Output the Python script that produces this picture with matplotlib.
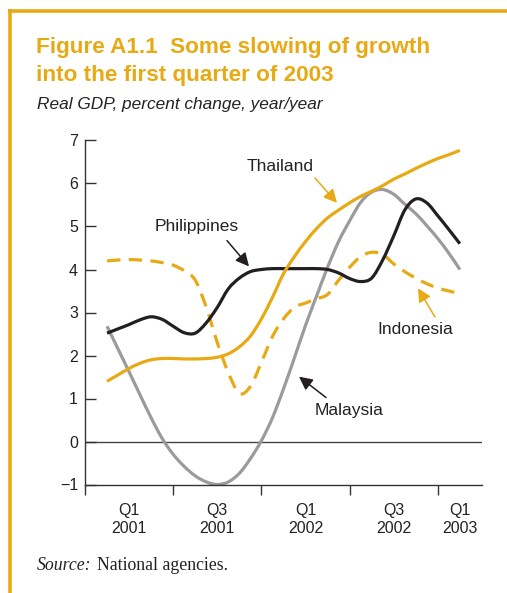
import matplotlib
matplotlib.use("Agg")
import matplotlib.pyplot as plt
from matplotlib.lines import Line2D
from matplotlib.path import Path
from matplotlib.patches import PathPatch

# ---- data (quarter index: 0 = start of 2001, data points at sub-quarter steps) ----
x = [0.5, 0.75, 1.0, 1.25, 1.5, 1.75, 2.0, 2.25, 2.5, 2.75, 3.0, 3.25, 3.5, 3.75,
     4.0, 4.25, 4.5, 4.75, 5.0, 5.25, 5.5, 5.75, 6.0, 6.25, 6.5, 6.75, 7.0, 7.25,
     7.5, 7.75, 8.0, 8.25, 8.5]
thailand = [1.40, 1.55, 1.70, 1.82, 1.90, 1.93, 1.93, 1.92, 1.92, 1.93, 1.96, 2.04,
            2.20, 2.45, 2.85, 3.35, 3.90, 4.30, 4.65, 4.95, 5.20, 5.38, 5.55, 5.70,
            5.82, 5.95, 6.10, 6.22, 6.35, 6.47, 6.58, 6.67, 6.77]
philippines = [2.52, 2.62, 2.72, 2.83, 2.90, 2.84, 2.68, 2.53, 2.52, 2.76, 3.12, 3.55,
               3.80, 3.95, 4.00, 4.02, 4.02, 4.02, 4.02, 4.02, 4.00, 3.92, 3.79, 3.72,
               3.80, 4.22, 4.78, 5.38, 5.64, 5.55, 5.25, 4.93, 4.60]
malaysia = [2.68, 2.15, 1.62, 1.08, 0.55, 0.07, -0.30, -0.58, -0.80, -0.94, -1.00, -0.94,
            -0.74, -0.40, 0.02, 0.55, 1.22, 1.95, 2.70, 3.38, 4.05, 4.65, 5.13, 5.56,
            5.80, 5.86, 5.75, 5.52, 5.30, 5.02, 4.72, 4.38, 4.00]
indonesia = [4.20, 4.22, 4.23, 4.22, 4.20, 4.16, 4.10, 3.97, 3.75, 3.12, 2.30, 1.60,
             1.12, 1.28, 1.84, 2.44, 2.85, 3.12, 3.22, 3.32, 3.42, 3.75, 4.05, 4.30,
             4.40, 4.35, 4.13, 3.95, 3.80, 3.67, 3.57, 3.50, 3.44]

xtick_pos = [0, 2, 4, 6, 8]
xlabel_pos = [1, 3, 5, 7, 8.5]
xlabels = ["Q1\n2001", "Q3\n2001", "Q1\n2002", "Q3\n2002", "Q1\n2003"]
yticks = [-1, 0, 1, 2, 3, 4, 5, 6, 7]
ytick_labels = ["\u22121", "0", "1", "2", "3", "4", "5", "6", "7"]

GOLD = "#E8AA14"
GRAY = "#9B9B9D"
BLACK = "#231F20"
AXC = "#333333"

plt.rcParams['font.family'] = ['Liberation Sans', 'DejaVu Sans']

W, H = 507, 593
fig = plt.figure(figsize=(W / 100, H / 100), dpi=100)
fig.patch.set_facecolor("white")

def fx(px):
    return px / W

def fy(py):
    return 1 - py / H

# yellow frame lines
fig.add_artist(Line2D([fx(8), fx(507)], [fy(10.5), fy(10.5)], color=GOLD, lw=2.6,
                      transform=fig.transFigure, solid_capstyle='butt'))
fig.add_artist(Line2D([fx(9.5), fx(9.5)], [fy(9.2), fy(593)], color=GOLD, lw=2.6,
                      transform=fig.transFigure, solid_capstyle='butt'))

# titles
fig.text(fx(36), fy(47), "Figure A1.1  Some slowing of growth", color=GOLD,
         fontsize=16.2, fontweight='bold', va='center', ha='left')
fig.text(fx(36), fy(75), "into the first quarter of 2003", color=GOLD,
         fontsize=16.2, fontweight='bold', va='center', ha='left')
fig.text(fx(37), fy(104), "Real GDP, percent change, year/year", color="#222222",
         fontsize=12.4, fontstyle='italic', va='center', ha='left')

# source
fig.text(fx(37), fy(565), "Source:", family=['Liberation Serif'], fontstyle='italic',
         fontsize=12.8, va='center', ha='left', color="#222222")
fig.text(fx(97), fy(565), "National agencies.", family=['Liberation Serif'],
         fontsize=12.8, va='center', ha='left', color="#222222")

# axes
left, right = 85, 482
top, bottom = 140.5, 484.5
ax = fig.add_axes([fx(left), fy(bottom), (right - left) / W, (bottom - top) / H])
ax.set_xlim(0, (right - left) / 44.1)
ax.set_ylim(-1, 7)
ax.patch.set_alpha(0)

for s in ["top", "right"]:
    ax.spines[s].set_visible(False)
ax.spines["left"].set_color(AXC)
ax.spines["bottom"].set_color(AXC)
ax.spines["left"].set_linewidth(1.0)
ax.spines["bottom"].set_linewidth(1.0)

ax.set_yticks(yticks)
ax.set_yticklabels(ytick_labels)
ax.tick_params(axis='y', direction='in', length=8, width=1, color=AXC,
               labelsize=11.5, pad=5, labelcolor="#222222")
ax.set_xticks(xtick_pos)
ax.set_xticklabels([""] * len(xtick_pos))
ax.tick_params(axis='x', which='major', direction='out', length=7, width=1, color=AXC)
ax.set_xticks(xlabel_pos, minor=True)
ax.set_xticklabels(xlabels, minor=True)
ax.tick_params(axis='x', which='minor', length=0, labelsize=11.5, pad=13,
               labelcolor="#222222")
for t in ax.get_xticklabels(minor=True):
    t.set_linespacing(1.3)

ax.axhline(0, color="#444444", lw=1.0, zorder=1)


def smooth_line(xs, ys, color, zorder, dashed=False):
    """Smoothed line through the data points (Catmull-Rom as cubic Bezier path)."""
    pts = list(zip(xs, ys))
    n = len(pts)
    verts = [pts[0]]
    codes = [Path.MOVETO]
    for i in range(n - 1):
        p0 = pts[i - 1] if i > 0 else pts[i]
        p1 = pts[i]
        p2 = pts[i + 1]
        p3 = pts[i + 2] if i + 2 < n else pts[i + 1]
        c1 = (p1[0] + (p2[0] - p0[0]) / 6, p1[1] + (p2[1] - p0[1]) / 6)
        c2 = (p2[0] - (p3[0] - p1[0]) / 6, p2[1] - (p3[1] - p1[1]) / 6)
        verts += [c1, c2, p2]
        codes += [Path.CURVE4] * 3
    ls = (0, (4.2, 2.6)) if dashed else '-'
    patch = PathPatch(Path(verts, codes), fill=False, edgecolor=color, lw=2.3,
                      linestyle=ls, capstyle='butt', joinstyle='round', zorder=zorder)
    ax.add_patch(patch)


smooth_line(x, malaysia, GRAY, 2)
smooth_line(x, indonesia, GOLD, 3, dashed=True)
smooth_line(x, philippines, BLACK, 4)
smooth_line(x, thailand, GOLD, 5)

def to_data(px, py):
    return ((px - 85) / 44.1, (442.3 - py) / 43.3)

def label(text, pos, tail, tip, color):
    ax.text(*to_data(*pos), text, fontsize=12.5, color="#222222", ha='center', va='center')
    ax.annotate("", xy=to_data(*tip), xytext=to_data(*tail),
                arrowprops=dict(arrowstyle='-|>', color=color, lw=1.1,
                                mutation_scale=20, shrinkA=0, shrinkB=0))

label("Thailand", (280, 165), (315, 177), (337, 202), GOLD)
label("Philippines", (197, 226), (227, 240), (249, 266), BLACK)
label("Indonesia", (415, 330), (435, 317), (418, 288), GOLD)
label("Malaysia", (349, 411), (326, 398), (299, 377), BLACK)

fig.savefig("out.png", dpi=100, facecolor="white")
